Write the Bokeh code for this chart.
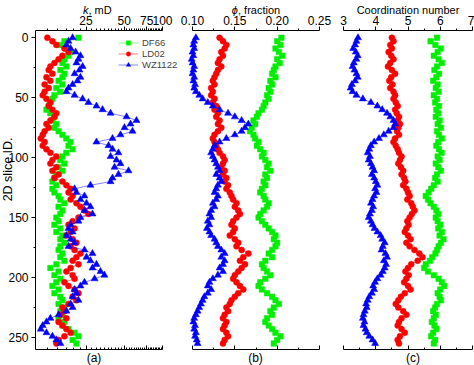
import math
from bokeh.plotting import figure
from bokeh.layouts import row
from bokeh.models import (Range1d, FixedTicker, Label, Legend, LegendItem, LinearAxis, LogAxis,
                          PrintfTickFormatter, CustomJSTickFormatter, ColumnDataSource)
from bokeh.embed import file_html
from bokeh.resources import INLINE

# ---------------- data ----------------
slice_id = list(range(0, 256, 3))

k_df66 = [21.8, 16.9, 15.7, 17.5, 18.9, 18.2, 16.9, 16.3, 17.5, 15.7,
          16.9, 16.3, 15.2, 16.3, 14.6, 15.7, 14.1, 13.6, 13.1, 12.7,
          12.2, 13.1, 14.1, 13.6, 14.6, 14.1, 15.2, 16.3, 17.5, 18.9,
          18.2, 19.6, 17.5, 16.3, 15.7, 16.9, 15.2, 16.3, 14.6, 14.1,
          13.6, 14.6, 13.6, 14.1, 15.2, 15.7, 16.9, 15.2, 16.3, 15.7,
          14.6, 15.2, 14.1, 15.7, 14.6, 16.3, 15.7, 16.9, 15.7, 15.2,
          16.3, 15.7, 16.9, 14.6, 13.1, 15.2, 14.1, 15.7, 14.6, 13.6,
          15.2, 14.1, 15.7, 16.3, 15.2, 16.9, 15.7, 16.3, 15.2, 16.9,
          16.3, 18.2, 20.3, 21.8, 19.6, 21.0]
k_ld02 = [12.4, 13.6, 14.6, 16.9, 18.2, 16.3, 15.2, 14.1, 13.1, 12.7,
          13.6, 12.2, 13.1, 11.8, 12.7, 11.8, 11.4, 12.2, 13.1, 12.7,
          13.6, 14.6, 14.1, 13.1, 12.2, 12.7, 11.8, 11.4, 11.0, 11.8,
          11.4, 12.2, 13.1, 14.6, 13.6, 13.1, 14.6, 13.6, 15.2, 14.1,
          16.3, 17.5, 18.9, 18.2, 19.6, 18.9, 21.0, 22.6, 24.3, 26.1,
          21.8, 19.6, 18.2, 20.3, 18.9, 17.5, 19.6, 21.0, 18.9, 20.3,
          22.6, 21.0, 19.6, 21.8, 18.9, 17.5, 19.6, 20.3, 16.9, 18.2,
          20.3, 21.8, 19.6, 21.0, 18.2, 16.3, 16.9, 15.7, 17.5, 15.2,
          16.3, 17.5, 18.9, 16.9, 15.2, 14.6]
k_wz1122 = [19.6, 18.2, 17.5, 18.9, 20.7, 22.6, 21.8, 21.0, 23.5, 22.2,
            20.3, 22.6, 21.4, 19.6, 18.2, 17.5, 20.3, 23.5, 26.1, 30.2,
            33.7, 39.0, 52.1, 62.4, 56.0, 50.2, 58.1, 46.7, 40.4, 30.2,
            37.6, 40.4, 45.0, 39.0, 43.4, 46.7, 41.9, 54.0, 45.0, 40.4,
            39.0, 27.1, 20.3, 21.0, 24.3, 22.6, 25.2, 27.1, 24.3, 28.1,
            22.6, 21.8, 18.9, 18.2, 19.6, 17.5, 18.9, 20.3, 18.2, 24.3,
            28.1, 25.2, 27.1, 30.2, 28.1, 32.5, 34.9, 29.2, 24.3, 22.6,
            20.3, 21.0, 19.6, 21.8, 18.9, 19.6, 17.5, 15.2, 13.1, 12.2,
            11.4, 11.0, 12.2, 13.6, 14.6, 15.7]

phi_df66 = [0.205, 0.200, 0.204, 0.198, 0.202, 0.206, 0.200, 0.203, 0.198, 0.196,
            0.194, 0.198, 0.192, 0.194, 0.190, 0.192, 0.188, 0.190, 0.186, 0.184,
            0.182, 0.178, 0.176, 0.172, 0.174, 0.170, 0.168, 0.172, 0.174, 0.178,
            0.176, 0.180, 0.184, 0.182, 0.186, 0.190, 0.188, 0.192, 0.186, 0.188,
            0.184, 0.186, 0.182, 0.180, 0.184, 0.186, 0.190, 0.188, 0.184, 0.180,
            0.178, 0.182, 0.186, 0.190, 0.194, 0.198, 0.196, 0.200, 0.198, 0.194,
            0.190, 0.194, 0.186, 0.182, 0.184, 0.188, 0.192, 0.186, 0.180, 0.178,
            0.182, 0.188, 0.194, 0.198, 0.202, 0.196, 0.192, 0.194, 0.188, 0.186,
            0.190, 0.194, 0.198, 0.204, 0.200, 0.196]
phi_ld02 = [0.132, 0.136, 0.140, 0.138, 0.134, 0.136, 0.132, 0.130, 0.134, 0.130,
            0.128, 0.126, 0.124, 0.126, 0.122, 0.124, 0.122, 0.126, 0.124, 0.128,
            0.126, 0.130, 0.128, 0.132, 0.130, 0.134, 0.130, 0.126, 0.124, 0.126,
            0.128, 0.130, 0.132, 0.136, 0.138, 0.136, 0.134, 0.138, 0.136, 0.140,
            0.138, 0.142, 0.140, 0.144, 0.146, 0.148, 0.152, 0.150, 0.154, 0.156,
            0.152, 0.148, 0.146, 0.150, 0.148, 0.144, 0.150, 0.154, 0.152, 0.158,
            0.166, 0.160, 0.156, 0.162, 0.158, 0.154, 0.150, 0.148, 0.152, 0.156,
            0.160, 0.154, 0.150, 0.146, 0.144, 0.140, 0.142, 0.138, 0.136, 0.140,
            0.138, 0.136, 0.140, 0.142, 0.138, 0.136]
phi_wz1122 = [0.104, 0.102, 0.101, 0.102, 0.100, 0.101, 0.099, 0.100, 0.102, 0.101,
              0.100, 0.102, 0.101, 0.103, 0.102, 0.104, 0.108, 0.112, 0.118, 0.124,
              0.132, 0.142, 0.150, 0.158, 0.166, 0.162, 0.158, 0.150, 0.140, 0.132,
              0.126, 0.124, 0.122, 0.124, 0.126, 0.128, 0.130, 0.132, 0.128, 0.132,
              0.134, 0.130, 0.128, 0.126, 0.130, 0.128, 0.124, 0.126, 0.122, 0.120,
              0.122, 0.118, 0.120, 0.117, 0.120, 0.122, 0.126, 0.128, 0.130, 0.134,
              0.138, 0.134, 0.138, 0.136, 0.132, 0.136, 0.130, 0.124, 0.120, 0.118,
              0.122, 0.118, 0.114, 0.112, 0.110, 0.108, 0.106, 0.104, 0.102, 0.101,
              0.103, 0.102, 0.104, 0.103, 0.105, 0.106]

cn_df66 = [5.90, 5.70, 5.85, 6.02, 5.92, 5.80, 5.95, 6.05, 5.90, 5.82,
           5.96, 5.88, 5.78, 5.92, 5.86, 5.95, 5.80, 5.90, 5.84, 5.96,
           5.88, 5.94, 5.86, 5.98, 5.92, 6.02, 5.90, 5.96, 6.05, 5.94,
           5.88, 5.96, 6.04, 5.92, 5.98, 5.86, 5.94, 6.02, 5.90, 5.84,
           5.92, 5.80, 5.72, 5.64, 5.55, 5.62, 5.70, 5.80, 5.88, 5.94,
           5.86, 5.92, 6.00, 5.94, 6.05, 5.98, 6.10, 6.02, 5.95, 5.90,
           5.85, 5.75, 5.68, 5.55, 5.50, 5.62, 5.80, 5.95, 6.05, 6.12,
           6.00, 5.92, 5.98, 6.02, 5.90, 5.84, 5.78, 5.86, 5.80, 5.74,
           5.82, 5.88, 5.78, 5.72, 5.84, 5.80]
cn_ld02 = [4.50, 4.55, 4.45, 4.50, 4.40, 4.48, 4.55, 4.45, 4.38, 4.50,
           4.60, 4.48, 4.42, 4.52, 4.45, 4.55, 4.60, 4.55, 4.62, 4.68,
           4.60, 4.65, 4.72, 4.68, 4.75, 4.70, 4.66, 4.72, 4.60, 4.55,
           4.62, 4.68, 4.72, 4.80, 4.75, 4.70, 4.78, 4.85, 4.80, 4.88,
           4.92, 4.85, 4.95, 5.00, 5.05, 4.98, 5.10, 5.15, 5.20, 5.12,
           5.05, 4.98, 5.02, 4.95, 4.90, 5.00, 5.08, 4.95, 5.05, 5.20,
           5.35, 5.45, 5.30, 5.10, 5.00, 4.92, 5.02, 4.95, 4.88, 5.00,
           5.08, 4.90, 4.78, 4.70, 4.62, 4.70, 4.85, 4.95, 4.80, 4.72,
           4.68, 4.80, 4.90, 4.75, 4.68, 4.72]
cn_wz1122 = [3.45, 3.40, 3.36, 3.30, 3.38, 3.44, 3.40, 3.32, 3.28, 3.34,
             3.40, 3.44, 3.36, 3.26, 3.22, 3.28, 3.40, 3.60, 3.85, 4.05,
             4.20, 4.35, 4.45, 4.55, 4.60, 4.55, 4.40, 4.25, 4.10, 3.95,
             3.85, 3.80, 3.75, 3.82, 3.78, 3.85, 3.90, 3.95, 3.88, 3.95,
             4.00, 4.05, 3.98, 4.02, 3.95, 3.90, 3.85, 3.92, 3.88, 3.82,
             3.78, 3.85, 3.90, 3.96, 4.05, 4.15, 4.20, 4.28, 4.22, 4.18,
             4.30, 4.35, 4.25, 4.32, 4.28, 4.22, 4.15, 4.05, 3.98, 3.92,
             3.95, 3.88, 3.80, 3.75, 3.70, 3.72, 3.66, 3.62, 3.60, 3.65,
             3.62, 3.68, 3.72, 3.80, 3.90, 3.98]

series_names = ["DF66", "LD02", "WZ1122"]
series_colors = ["#00ee00", "#ff0000", "#0000ff"]
series_markers = ["square", "circle", "triangle"]
series_sizes = [5.5, 6, 7]

k_major = [25, 50, 75, 100]
k_minor = [v / 2 for v in range(25, 200, 5)]
phi_major = [0.10, 0.15, 0.20, 0.25]
phi_minor = [0.125, 0.175, 0.225]
cn_major = [3, 4, 5, 6, 7]
cn_minor = [3.5, 4.5, 5.5, 6.5]
y_major = [0, 50, 100, 150, 200, 250]
y_minor = [25, 75, 125, 175, 225]

# axis extents (data units)
K_LIM = (10, 100)
PHI_LIM = (0.10, 0.25)
CN_LIM = (3, 7)
Y_LIM = (-6, 260)

FONT = "Liberation Sans"
H = 365


def style_axis(ax, inward=False, labels=True):
    ax.axis_line_color = "black"
    ax.axis_line_width = 1
    ax.major_tick_line_color = "black"
    ax.minor_tick_line_color = "black"
    if inward:
        ax.major_tick_in, ax.major_tick_out = 4, 0
        ax.minor_tick_in, ax.minor_tick_out = 2, 0
    else:
        ax.major_tick_in, ax.major_tick_out = 0, 4
        ax.minor_tick_in, ax.minor_tick_out = 0, 2
    ax.major_label_text_font = FONT
    ax.major_label_text_font_size = "12px"
    ax.major_label_text_color = "black"
    ax.major_label_standoff = 2
    if not labels:
        ax.formatter = CustomJSTickFormatter(code="return ''")


def make_fig(width, xr, log, yaxis):
    p = figure(width=width, height=H, x_range=xr, y_range=Range1d(273.34, -31.02),
               x_axis_type="log" if log else "linear",
               x_axis_location="above", y_axis_location="left" if yaxis else None,
               output_backend="svg", toolbar_location=None,
               min_border_left=0, min_border_right=0,
               min_border_top=0, min_border_bottom=0)
    p.xgrid.visible = False
    p.ygrid.visible = False
    p.outline_line_color = None
    return p


def setup_x_axes(p, ticks, minor, lim, fmt, log):
    top = p.xaxis[0]
    top.ticker = FixedTicker(ticks=ticks, minor_ticks=minor)
    top.formatter = PrintfTickFormatter(format=fmt)
    style_axis(top)
    top.bounds = lim
    top.fixed_location = Y_LIM[0]
    bot = (LogAxis if log else LinearAxis)(ticker=FixedTicker(ticks=ticks, minor_ticks=minor))
    style_axis(bot, inward=True, labels=False)
    bot.bounds = lim
    bot.fixed_location = Y_LIM[1]
    p.add_layout(bot, "below")


def add_series(p, xs_list):
    rends = []
    for xs, col, mk, sz in zip(xs_list, series_colors, series_markers, series_sizes):
        src = ColumnDataSource(dict(x=xs, y=slice_id))
        ln = p.line("x", "y", source=src, line_color=col, line_width=0.6, line_alpha=0.8)
        sc = p.scatter("x", "y", source=src, marker=mk, size=sz,
                       fill_color=col, line_color=col, line_width=0.5)
        rends.append([ln, sc])
    return rends


def lab(p, x, y, text, size="11px", align="center", baseline="alphabetic", style="normal", angle=0.0):
    p.add_layout(Label(x=x, y=y, text=text, text_font=FONT, text_font_size=size,
                       text_align=align, text_baseline=baseline, text_font_style=style,
                       text_color="black", angle=angle))


# ---------------- panel (a) ----------------
p1 = make_fig(180, Range1d(5.302, 138.6), True, True)
setup_x_axes(p1, k_major, k_minor, K_LIM, "%d", True)
ya = p1.yaxis[0]
ya.ticker = FixedTicker(ticks=y_major, minor_ticks=y_minor)
style_axis(ya)
ya.major_label_standoff = 3
ya.bounds = Y_LIM
ya.fixed_location = K_LIM[0]
r1 = add_series(p1, [k_df66, k_ld02, k_wz1122])
legend = Legend(items=[LegendItem(label=n, renderers=r) for n, r in zip(series_names, r1)],
                location=(118, 295), glyph_width=20, glyph_height=11, label_height=11,
                spacing=0, padding=0, margin=0, label_standoff=4,
                label_text_font=FONT, label_text_font_size="9.5px",
                background_fill_alpha=0, border_line_alpha=0)
p1.add_layout(legend)
lab(p1, 26.1, -23.1, "k", align="right", style="italic")
lab(p1, 26.1, -23.1, ", mD", align="left")
lab(p1, 28.9, 266.7, "(a)", size="12px", baseline="middle")
lab(p1, 6.1, 109.8, "2D slice ID.", size="12.5px", baseline="middle", angle=math.pi / 2)

# ---------------- panel (b) ----------------
p2 = make_fig(151, Range1d(0.085827, 0.264173), False, False)
setup_x_axes(p2, phi_major, phi_minor, PHI_LIM, "%.2f", False)
add_series(p2, [phi_df66, phi_ld02, phi_wz1122])
lab(p2, 0.1537, -23.1, "ϕ", align="right", style="italic")
lab(p2, 0.1537, -23.1, ", fraction", align="left")
lab(p2, 0.1744, 266.7, "(b)", size="12px", baseline="middle")

# ---------------- panel (c) ----------------
p3 = make_fig(143, Range1d(2.6279, 7.0620), False, False)
setup_x_axes(p3, cn_major, cn_minor, CN_LIM, "%d", False)
add_series(p3, [cn_df66, cn_ld02, cn_wz1122])
lab(p3, 5.0, -23.1, "Coordination number")
lab(p3, 5.155, 266.7, "(c)", size="12px", baseline="middle")

layout = row(p1, p2, p3, spacing=0)

open("out.html", "w").write(file_html(layout, INLINE))
